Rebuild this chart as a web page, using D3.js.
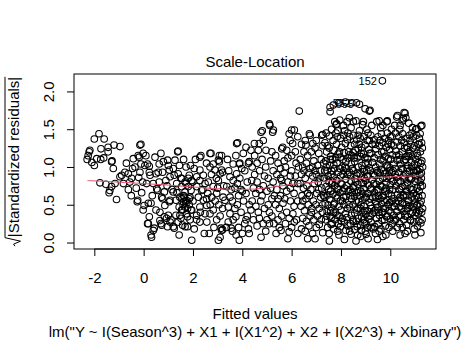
<!DOCTYPE html>
<html><head><meta charset="utf-8">
<script src="https://cdn.jsdelivr.net/npm/d3@7"></script>
<style>html,body{margin:0;padding:0;background:#fff}</style>
</head><body>
<svg id="chart" width="474" height="342"></svg>
<script>
// ---- data (fitted value, sqrt(|standardized residual|)) ----
const ptsLeft = [[-2.29,1.10],[-2.25,1.15],[-2.18,1.22],[-2.0,1.37],[-1.81,1.44],[-1.6,1.37],[-1.9,1.11],[-2.0,1.02],[-1.74,1.10],[-1.73,1.24],[-1.44,1.26],[-1.2,1.29],[-0.96,1.27],[-1.44,1.20],[-1.3,1.07],[-1.28,1.08],[-1.23,0.98],[-1.1,0.57],[-1.77,0.79],[-1.53,0.77],[-1.37,0.69],[-1.3,0.74],[-1.16,0.78],[-2.1,1.06],[-1.62,1.12],[-1.4,0.66],[-2.21,1.20],
[-0.96,0.87],[-0.89,0.89],[-0.76,0.93],[-0.62,0.91],[-0.49,0.85],[-0.56,0.80],[-0.15,1.29],[-0.11,1.30],[-0.22,1.15],[-0.18,1.13],[-0.42,1.11],[-0.15,0.93],[-0.02,1.18],[-0.35,1.00],[-0.45,0.98],[-0.26,0.54],[-0.24,0.56],[-0.02,0.43],[-0.11,1.04],[-0.04,0.80],[-0.30,0.72],[-0.62,0.70],[-0.82,0.78],[-0.20,0.86],[-0.70,1.05],[-0.50,0.62],[-0.08,0.66]];
const ptsLow = [[0.02,0.49],[0.09,1.15],[0.16,1.04],[0.23,0.93],[0.3,0.52],[0.5,0.43],[0.23,0.34],[0.16,0.25],[0.19,0.25],[0.43,0.19],[0.3,0.10],[0.32,0.07],[0.39,0.16],[0.7,1.18],[0.63,1.04],[0.97,1.09],[0.5,0.91],[0.77,0.93],[1.04,0.96],[0.9,0.82],[0.63,0.80],[0.57,0.69],[0.84,0.67],[0.77,0.58],[1.04,0.54],[0.84,0.34],[0.7,0.25],[0.97,0.21],[1.11,0.30],[0.26,0.89],[0.23,1.01],[0.39,0.78],[0.53,0.71],[0.46,1.13],[0.59,0.93],[0.8,1.07],[1.0,1.02],[1.07,0.87],[0.73,0.60],[0.86,0.49],[1.07,0.56],[0.93,0.32],[1.07,0.27],[1.0,0.36],[0.66,0.29],[0.73,0.23],[0.66,0.40],[0.19,0.52],[0.05,1.02],[0.12,0.78],[0.35,0.62],[1.15,0.70],[0.95,0.75],
[1.2,0.67],[1.24,0.89],[1.24,0.19],[1.2,0.21],[1.31,0.56],[1.31,0.36],[1.38,1.20],[1.40,1.21],[1.27,1.09],[1.2,0.98],[1.4,0.91],[1.54,0.85],[1.34,0.78],[1.54,0.74],[1.47,0.60],[1.61,0.54],[1.68,0.47],[1.54,0.43],[1.47,0.36],[1.4,0.27],[1.74,0.38],[1.95,0.43],[1.88,0.30],[1.68,0.21],[1.95,0.03],[1.74,0.56],[1.88,0.60],[1.68,0.67],[1.81,0.74],[1.95,0.82],[1.81,0.85],[1.68,0.80],[1.44,0.47],[1.58,0.43],[1.72,0.52],[1.85,0.58],[1.65,0.60],[1.92,0.43],[1.78,0.34],[1.51,0.32],[1.58,0.23],[1.78,0.21],[1.44,0.10],[1.92,0.69],[1.99,0.80],[1.72,0.78],[1.51,0.85],[1.85,0.89],[2.05,0.98],[1.72,1.00],[1.60,0.50],[1.70,0.55],[1.78,0.45],[1.62,0.62],[1.55,0.58],[1.85,0.50],[2.0,0.55],[1.35,0.66],[1.45,1.02],[1.62,1.10],[2.1,1.10],[1.9,1.02],[2.15,0.30],[2.05,0.18]];
const ptsMid = [[2.28,1.13],[2.69,1.18],[2.28,0.96],[2.15,0.87],[2.42,0.89],[2.28,0.82],[2.49,0.78],[2.15,0.74],[2.35,0.69],[2.22,0.60],[2.42,0.56],[2.28,0.47],[2.56,0.49],[2.49,0.38],[2.15,0.36],[2.28,0.27],[2.56,0.27],[2.69,0.38],[2.82,0.43],[2.96,0.30],[3.03,0.03],[3.10,0.07],[3.16,0.16],[3.20,0.17],[2.76,0.60],[2.96,0.65],[2.82,0.74],[2.62,0.80],[3.03,0.82],[3.10,0.91],[2.89,0.96],[3.16,0.96],[2.82,1.04],[3.03,1.09],[2.69,1.00],[3.16,1.15],[2.55,1.05],[2.40,0.70],[2.60,0.65],[2.70,0.50],[2.90,0.55],[3.05,0.50],[3.20,0.45],[3.10,0.35],[2.85,0.20],[2.46,0.12],[2.66,0.12],[2.95,0.85],[3.25,0.75],[3.22,0.60],[2.32,1.15],[2.73,1.18],[3.07,1.15],[3.07,1.07],[3.2,0.93],[2.75,0.90],[2.55,0.58],[3.0,0.72],[2.3,0.40],[3.14,0.19],
[3.37,0.74],[3.5,0.87],[3.63,0.82],[3.43,0.47],[3.5,0.38],[3.63,0.30],[3.7,0.45],[3.43,0.27],[3.3,0.56],[3.5,0.60],[3.77,1.31],[3.81,1.32],[3.63,1.04],[3.77,0.91],[4.04,1.18],[3.74,1.15],[3.88,1.04],[3.55,0.19],[3.74,0.34],[4.15,0.30],[3.88,0.03],[3.40,1.10],[3.90,1.05],[4.10,0.95],[4.20,0.80],[3.95,0.70],[3.85,0.62],[4.05,0.55],[4.15,0.65],[3.80,0.50],[3.95,0.40],[4.20,0.35],[4.10,0.25],[3.85,0.20],[3.60,0.15],[3.75,0.10],[4.0,0.12],[4.25,0.18],[3.45,0.95],[3.70,0.72],[3.90,0.85],[4.25,1.05],[4.15,1.26],[3.35,0.20],[3.60,0.55],[4.28,0.50],[3.98,0.98],[4.0,0.68],[3.55,0.70],[3.80,0.78],
[4.35,1.22],[4.49,1.31],[4.28,1.07],[4.35,0.43],[4.28,0.12],[4.69,1.31],[4.76,1.46],[4.81,1.48],[5.10,1.57],[5.12,1.55],[5.26,1.49],[5.23,1.46],[4.96,1.22],[4.65,1.22],[4.85,1.35],[4.76,0.07],[5.10,0.25],[4.69,0.32],[4.40,1.00],[4.50,0.90],[4.60,0.80],[4.45,0.72],[4.55,0.65],[4.70,0.70],[4.85,0.75],[5.00,0.68],[5.15,0.72],[5.25,0.80],[4.40,0.55],[4.55,0.48],[4.75,0.55],[4.90,0.45],[5.05,0.50],[5.20,0.58],[4.45,0.30],[4.60,0.22],[4.85,0.25],[4.95,0.15],[5.20,0.35],[5.10,0.40],[4.60,1.05],[4.80,1.10],[4.95,1.00],[5.15,1.08],[5.25,0.95],[4.70,0.95],[4.90,0.88],[5.05,0.85],[4.50,1.15],[5.20,1.20],[4.38,0.82],[4.65,0.40],[5.00,0.30],[4.80,0.62],[5.28,0.25],
[5.37,0.12],[5.57,0.16],[5.90,0.14],[6.25,0.12],[6.11,0.27],[5.64,1.26],[5.60,1.24],[5.80,1.22],[5.94,1.35],[6.00,1.49],[6.04,1.31],[6.11,1.49],[6.25,1.40],[5.90,1.44],[6.31,1.74],[5.35,1.15],[5.45,1.05],[5.55,0.98],[5.70,1.08],[5.85,1.12],[6.00,1.15],[6.15,1.20],[5.40,0.90],[5.55,0.85],[5.70,0.92],[5.85,0.80],[6.00,0.95],[6.15,0.88],[6.28,1.00],[5.40,0.70],[5.55,0.62],[5.65,0.75],[5.80,0.68],[5.95,0.72],[6.10,0.65],[6.25,0.78],[5.35,0.50],[5.50,0.45],[5.65,0.52],[5.80,0.40],[5.95,0.55],[6.10,0.48],[6.25,0.55],[5.45,0.30],[5.60,0.35],[5.75,0.25],[5.90,0.32],[6.05,0.38],[6.20,0.30],[5.50,0.20],[5.85,0.05],[6.00,0.20],[5.72,0.58],[6.18,1.05],[5.60,0.82],[5.30,0.62],[5.95,0.88],[6.05,0.78],[5.75,1.00],[5.45,0.58]];
const ptsHigh = [[6.40,1.30],[6.58,1.29],[6.72,1.44],[6.75,1.42],[6.86,1.31],[7.22,1.42],[7.26,1.43],[6.50,1.20],[6.65,1.15],[6.80,1.20],[6.95,1.25],[7.10,1.18],[7.25,1.28],[6.35,1.10],[6.45,1.00],[6.60,1.05],[6.75,0.98],[6.90,1.08],[7.05,1.02],[7.20,1.10],[6.40,0.90],[6.55,0.85],[6.70,0.92],[6.85,0.88],[7.00,0.90],[7.15,0.95],[7.28,0.85],[6.35,0.78],[6.48,0.72],[6.62,0.75],[6.78,0.70],[6.92,0.78],[7.08,0.80],[7.22,0.72],[6.42,0.62],[6.58,0.58],[6.72,0.62],[6.88,0.55],[7.02,0.65],[7.18,0.60],[7.30,0.62],[6.38,0.48],[6.52,0.42],[6.68,0.50],[6.82,0.45],[6.98,0.50],[7.12,0.45],[7.26,0.50],[6.45,0.32],[6.60,0.28],[6.75,0.35],[6.90,0.30],[7.05,0.35],[7.20,0.30],[6.40,0.18],[6.55,0.15],[6.70,0.22],[6.85,0.12],[7.00,0.20],[7.12,0.24],[7.26,0.13],[6.95,0.05],[6.65,0.05],[6.50,0.95],[6.95,0.95],[6.65,0.65],[7.10,0.70],[6.80,0.40],[6.45,0.55],[7.25,0.40],[6.55,1.35],[7.00,1.35],[6.85,1.00],[7.15,0.85],
[7.35,1.32],[7.42,1.20],[7.38,1.08],[7.45,0.95],[7.33,0.85],[7.40,0.74],[7.47,0.63],[7.36,0.52],[7.44,0.41],[7.38,0.30],[7.46,0.20],[7.53,0.02],[7.52,1.25],[7.58,1.14],[7.55,1.02],[7.60,0.90],[7.52,0.80],[7.58,0.68],[7.54,0.57],[7.62,0.46],[7.56,0.35],[7.60,0.24],[7.52,0.12],[7.68,1.35],[7.72,1.22],[7.66,1.10],[7.74,0.98],[7.68,0.86],[7.75,0.75],[7.67,0.64],[7.73,0.52],[7.69,0.40],[7.76,0.30],[7.70,0.18],[7.82,1.30],[7.88,1.17],[7.84,1.05],[7.90,0.93],[7.83,0.82],[7.89,0.70],[7.85,0.59],[7.92,0.48],[7.84,0.36],[7.90,0.25],[7.87,0.15],[7.98,1.38],[8.03,1.26],[7.97,1.13],[8.05,1.00],[7.99,0.88],[8.04,0.77],[7.96,0.66],[8.06,0.55],[8.00,0.43],[8.05,0.32],[7.98,0.21],[8.14,0.04],[8.12,1.42],[8.18,1.31],[8.13,1.19],[8.20,1.07],[8.11,0.95],[8.19,0.84],[8.14,0.72],[8.21,0.61],[8.12,0.50],[8.18,0.38],[8.14,0.27],[8.20,0.16],[8.26,1.36],[8.28,1.12],[8.27,0.90],[8.29,0.68],[8.26,0.45],[8.28,0.22],[7.56,1.79],[7.69,1.82],[7.56,1.73],[7.83,1.57],[7.80,1.56],[7.87,1.48],[7.53,1.41],[7.91,1.85],[8.18,1.86],[7.62,1.50],[7.95,1.62],[8.10,1.55],[7.40,1.45],[8.25,1.60],[7.75,1.60],[7.45,1.28],[7.62,0.95],[7.80,0.62],[7.95,0.98],[8.10,0.60],[7.50,0.70],[7.70,0.50],[7.35,0.60],[8.00,0.78],[7.78,1.12],[7.60,0.32],[8.08,0.90],[7.92,0.35],[7.40,1.00],[8.22,0.98],[7.85,1.40],[8.15,1.48],[7.58,0.42],[7.98,0.55],[8.24,0.33],[8.41,0.11]];
const ptsRight = [[8.44,1.85],[8.98,1.77],[9.18,1.75],[8.50,1.60],[8.91,1.60],[8.34,1.65],[8.61,1.61],[8.88,1.56],[8.41,1.52],[9.15,1.74],[9.05,1.50],[8.75,1.48],[9.25,1.55],[8.61,0.02],[9.02,0.11],[9.22,0.20],[8.80,0.08],[9.10,0.05],
[8.35,1.40],[8.40,1.28],[8.36,1.16],[8.42,1.04],[8.35,0.93],[8.41,0.81],[8.37,0.70],[8.43,0.58],[8.36,0.47],[8.42,0.36],[8.38,0.25],[8.50,1.42],[8.55,1.30],[8.49,1.19],[8.56,1.07],[8.51,0.95],[8.57,0.84],[8.50,0.72],[8.55,0.61],[8.49,0.50],[8.56,0.39],[8.51,0.28],[8.55,0.17],[8.64,1.36],[8.70,1.24],[8.65,1.12],[8.71,1.00],[8.63,0.89],[8.69,0.77],[8.66,0.66],[8.72,0.54],[8.64,0.43],[8.70,0.32],[8.66,0.21],[8.68,0.10],[8.78,1.38],[8.84,1.26],[8.79,1.14],[8.85,1.02],[8.78,0.91],[8.83,0.79],[8.80,0.68],[8.86,0.56],[8.79,0.45],[8.84,0.34],[8.80,0.23],[8.93,1.40],[8.98,1.29],[8.92,1.17],[8.99,1.05],[8.94,0.94],[9.00,0.82],[8.93,0.71],[8.98,0.59],[8.94,0.48],[9.00,0.37],[8.95,0.26],[8.99,0.15],[9.07,1.35],[9.13,1.23],[9.08,1.11],[9.14,0.99],[9.06,0.88],[9.12,0.76],[9.09,0.65],[9.15,0.53],[9.07,0.42],[9.13,0.31],[9.08,0.20],[9.21,1.42],[9.27,1.30],[9.22,1.18],[9.28,1.06],[9.20,0.95],[9.26,0.83],[9.23,0.72],[9.29,0.60],[9.21,0.49],[9.27,0.38],[9.22,0.27],[8.45,0.98],[8.60,0.80],[8.75,0.62],[8.90,0.40],[9.05,0.95],[9.20,0.70],[8.38,0.62],[8.58,1.22],[8.82,1.18],[9.10,1.45],[8.68,0.45],[8.95,0.85],[9.18,0.35],[8.48,0.30],[8.88,0.65],[9.02,0.25],
[9.48,0.04],[9.55,1.61],[9.61,1.52],[9.88,1.61],[9.45,1.60],[9.86,1.60],[10.26,1.66],[10.29,1.68],[9.70,1.55],[10.05,1.50],
[9.36,1.36],[9.42,1.24],[9.35,1.12],[9.41,1.00],[9.37,0.89],[9.43,0.77],[9.36,0.66],[9.42,0.54],[9.38,0.43],[9.44,0.32],[9.37,0.21],[9.40,0.12],[9.50,1.40],[9.56,1.28],[9.51,1.16],[9.57,1.04],[9.49,0.93],[9.55,0.81],[9.52,0.70],[9.58,0.58],[9.50,0.47],[9.56,0.36],[9.51,0.25],[9.55,0.15],[9.64,1.44],[9.70,1.32],[9.65,1.20],[9.71,1.08],[9.63,0.97],[9.69,0.85],[9.66,0.74],[9.72,0.62],[9.64,0.51],[9.70,0.40],[9.66,0.29],[9.70,0.08],[9.78,1.38],[9.84,1.26],[9.79,1.14],[9.85,1.02],[9.78,0.91],[9.83,0.79],[9.80,0.68],[9.86,0.56],[9.79,0.45],[9.84,0.34],[9.80,0.22],[9.82,0.10],[9.93,1.35],[9.98,1.23],[9.92,1.11],[9.99,0.99],[9.94,0.88],[10.00,0.76],[9.93,0.65],[9.98,0.53],[9.94,0.42],[10.00,0.31],[9.95,0.20],[10.07,1.40],[10.13,1.28],[10.08,1.16],[10.14,1.04],[10.06,0.93],[10.12,0.81],[10.09,0.70],[10.15,0.58],[10.07,0.47],[10.13,0.36],[10.08,0.25],[10.21,1.45],[10.27,1.33],[10.22,1.21],[10.28,1.09],[10.20,0.98],[10.26,0.86],[10.23,0.75],[10.29,0.63],[10.21,0.52],[10.27,0.41],[10.22,0.30],[10.15,0.29],[9.45,0.95],[9.60,0.75],[9.75,0.55],[9.90,0.35],[10.05,0.62],[10.20,0.90],[9.40,0.60],[9.62,1.10],[9.88,1.45],[10.18,1.55],[9.72,0.45],[9.96,0.95],[10.10,0.15],[9.52,0.62],[9.85,0.85],[10.02,1.10],
[10.49,1.61],[10.53,1.64],[10.56,1.72],[10.60,1.71],[10.63,1.65],[11.28,1.55],[11.08,1.51],[11.24,1.54],[11.03,1.50],[10.40,1.55],[10.75,1.58],[10.90,1.52],[10.49,0.20],[10.69,0.15],[10.97,0.18],[11.24,0.13],[11.24,0.26],[10.83,0.29],[10.55,0.30],[11.10,0.22],[10.40,0.10],
[10.35,1.40],[10.41,1.28],[10.36,1.16],[10.42,1.04],[10.35,0.93],[10.41,0.81],[10.37,0.70],[10.43,0.58],[10.36,0.47],[10.42,0.36],[10.38,0.25],[10.50,1.44],[10.56,1.32],[10.49,1.20],[10.56,1.08],[10.51,0.97],[10.57,0.85],[10.50,0.74],[10.55,0.63],[10.49,0.52],[10.56,0.41],[10.64,1.38],[10.70,1.26],[10.65,1.14],[10.71,1.02],[10.63,0.91],[10.69,0.79],[10.66,0.68],[10.72,0.56],[10.64,0.45],[10.70,0.34],[10.66,0.23],[10.78,1.42],[10.84,1.30],[10.79,1.18],[10.85,1.06],[10.78,0.95],[10.83,0.83],[10.80,0.72],[10.86,0.60],[10.79,0.49],[10.84,0.38],[10.93,1.40],[10.98,1.28],[10.92,1.16],[10.99,1.04],[10.94,0.93],[11.00,0.81],[10.93,0.70],[10.98,0.58],[10.94,0.47],[11.00,0.36],[10.95,0.27],[11.07,1.42],[11.13,1.30],[11.08,1.18],[11.14,1.06],[11.06,0.95],[11.12,0.83],[11.09,0.72],[11.15,0.60],[11.07,0.49],[11.13,0.38],[11.21,1.44],[11.27,1.32],[11.22,1.20],[11.28,1.08],[11.20,0.97],[11.26,0.85],[11.23,0.74],[11.29,0.62],[11.21,0.51],[11.27,0.40],[11.31,1.00],[11.30,0.75],[11.31,0.45],[11.30,1.25],[10.45,0.98],[10.60,0.75],[10.75,0.55],[10.90,0.40],[11.05,0.62],[11.20,0.90],[10.40,0.60],[10.62,1.10],[10.88,1.45],[11.18,1.30],[10.72,0.45],[10.96,0.95],[11.16,0.28],[10.52,0.62],[10.85,0.85],[11.02,1.10],[11.25,0.55],[10.68,0.98],[11.10,0.50],[10.38,1.50]];
const ptsBlobExtra = [[7.30,1.05],[7.48,0.88],[7.63,0.78],[7.71,1.03],[7.86,0.72],[7.94,1.20],[8.07,0.68],[8.16,1.00],[8.23,0.75],[8.31,1.20],[8.39,0.88],[8.46,0.66],[8.53,1.12],[8.62,0.55],[8.68,0.92],[8.74,1.30],[8.81,0.50],[8.87,0.97],[8.92,0.30],[8.97,1.12],[9.03,0.60],[9.09,0.88],[9.16,1.18],[9.24,0.45],[9.31,0.90],[9.34,0.40],[9.39,1.30],[9.46,0.70],[9.53,0.40],[9.59,0.92],[9.67,0.60],[9.74,1.20],[9.77,0.30],[9.82,0.72],[9.89,1.00],[9.91,0.50],[9.97,0.70],[10.03,0.40],[10.04,1.30],[10.11,0.95],[10.17,0.48],[10.24,1.15],[10.31,0.80],[10.33,0.35],[10.39,1.10],[10.46,0.45],[10.53,0.88],[10.58,1.25],[10.61,0.35],[10.67,0.62],[10.73,1.15],[10.77,0.85],[10.81,0.30],[10.87,0.70],[10.91,1.25],[10.97,0.52],[11.03,0.88],[11.05,0.40],[11.11,1.15],[11.17,0.68],[11.19,0.42],[11.24,1.05],[11.29,0.30],[11.26,0.92],[11.18,1.38],[10.80,1.35],[10.46,1.35],[10.00,1.40],[9.58,1.35],[9.15,1.35],[8.70,1.42],[8.28,1.45],[7.80,1.45],[7.48,0.50],[7.64,0.25],[7.92,0.10],[8.35,0.15],[8.83,0.16],[9.30,0.18],[9.62,0.18],[10.28,0.20],[10.60,0.12],[11.00,0.10],[7.42,0.35],[7.78,0.40],[8.02,0.28],[8.33,0.50],[8.62,0.28],[8.91,0.78],[9.18,0.58],[9.45,0.50],[9.73,0.95],[10.03,0.85],[10.33,0.55],[10.65,0.50],[10.95,0.65],[11.22,0.80],[7.66,0.80],[8.09,1.10],[8.52,0.75],[8.96,0.42],[9.33,0.78],[9.66,0.40],[10.06,0.55],[10.44,0.72],[10.86,1.00],[11.12,0.95],[7.34,0.95],[7.57,1.10],[8.44,1.15],[9.10,1.05],[9.91,1.30],[10.75,1.20]];

// identified points
const idLabels = ["152", "655", "552"];
const idFitted = [9.68, 8.75, 8.63];
const idResid  = [2.14, 1.83, 1.85];

// lowess smoother (red line)
const smoothX = [-2.28, -1, 0, 1, 2, 3, 4, 5, 6, 7, 8, 9, 10, 11.31];
const smoothY = [0.82, 0.80, 0.78, 0.76, 0.735, 0.712, 0.702, 0.722, 0.77, 0.80, 0.83, 0.85, 0.87, 0.885];

// axis ticks & limits
const xTicks = [-2, 0, 2, 4, 6, 8, 10];
const yTicks = [0, 0.5, 1, 1.5, 2];
const xlim = [-2.28, 11.31];
const ylim = [0, 2.145];

const titleText = "Scale-Location";
const xTitle = "Fitted values";
const subTitle = 'lm("Y ~ I(Season^3) + X1 + I(X1^2) + X2 + I(X2^3) + Xbinary")';
const yTitle = "|Standardized residuals|";

// ---- drawing ----
const FONT = "'Liberation Sans', Arial, Helvetica, sans-serif";
const box = {l: 74, r: 436, t: 74, b: 249};
const svg = d3.select("#chart");
svg.append("rect").attr("width", 474).attr("height", 342).attr("fill", "#fff");

const dx = xlim[1] - xlim[0], dy = ylim[1] - ylim[0];
const x = d3.scaleLinear().domain([xlim[0] - 0.04 * dx, xlim[1] + 0.04 * dx]).range([box.l, box.r]);
const y = d3.scaleLinear().domain([ylim[0] - 0.04 * dy, ylim[1] + 0.04 * dy]).range([box.b, box.t]);

const allPts = [].concat(ptsLeft, ptsLow, ptsMid, ptsHigh, ptsRight, ptsBlobExtra,
  idFitted.map((f, i) => [f, idResid[i]]));

svg.append("g").selectAll("circle").data(allPts).join("circle")
  .attr("cx", d => x(d[0])).attr("cy", d => y(d[1])).attr("r", 3.3)
  .attr("fill", "none").attr("stroke", "#000").attr("stroke-width", 1.05);

const line = d3.line().x(d => x(d[0])).y(d => y(d[1])).curve(d3.curveCatmullRom);
svg.append("path").datum(smoothX.map((v, i) => [v, smoothY[i]]))
  .attr("d", line).attr("fill", "none").attr("stroke", "#DF536B").attr("stroke-width", 1);

// id labels
svg.append("g").selectAll("text").data(idLabels).join("text")
  .attr("x", (d, i) => x(idFitted[i]) - 5.5).attr("y", (d, i) => y(idResid[i]))
  .attr("dy", "0.35em").attr("text-anchor", "end")
  .attr("font-family", FONT).attr("font-size", 11).text(d => d);

// box
svg.append("rect").attr("x", box.l).attr("y", box.t).attr("width", box.r - box.l).attr("height", box.b - box.t)
  .attr("fill", "none").attr("stroke", "#000").attr("stroke-width", 1);

// x axis
const gx = svg.append("g").attr("transform", `translate(0,${box.b})`)
  .call(d3.axisBottom(x).tickValues(xTicks).tickSize(7).tickFormat(d => String(d)));
gx.select(".domain").remove();
gx.selectAll(".tick line").attr("stroke", "#000");
gx.selectAll(".tick text").attr("y", 33.5).attr("dy", 0).attr("fill", "#000")
  .attr("font-family", FONT).attr("font-size", 15);
svg.append("line").attr("x1", x(xTicks[0])).attr("x2", x(xTicks[xTicks.length - 1]))
  .attr("y1", box.b).attr("y2", box.b).attr("stroke", "#000");

// y axis
const gy = svg.append("g").attr("transform", `translate(${box.l},0)`)
  .call(d3.axisLeft(y).tickValues(yTicks).tickSize(7).tickFormat(d3.format(".1f")));
gy.select(".domain").remove();
gy.selectAll(".tick line").attr("stroke", "#000");
gy.selectAll(".tick text").attr("x", 0).attr("y", 0).attr("dy", 0)
  .attr("transform", "translate(-20.5,0) rotate(-90)").attr("text-anchor", "middle")
  .attr("fill", "#000").attr("font-family", FONT).attr("font-size", 15);

// titles
svg.append("text").attr("x", (box.l + box.r) / 2).attr("y", 67).attr("text-anchor", "middle")
  .attr("font-family", FONT).attr("font-size", 15).text(titleText);
svg.append("text").attr("x", (box.l + box.r) / 2).attr("y", 318.5).attr("text-anchor", "middle")
  .attr("font-family", FONT).attr("font-size", 15).text(xTitle);
svg.append("text").attr("x", (box.l + box.r) / 2).attr("y", 336.5).attr("text-anchor", "middle")
  .attr("font-family", FONT).attr("font-size", 15).text(subTitle);

// y title with radical sign
const gyt = svg.append("g").attr("transform", `translate(19,${(box.t + box.b) / 2}) rotate(-90)`);
const yt = gyt.append("text").attr("font-family", FONT).attr("font-size", 15).attr("text-anchor", "start").text(yTitle);
const tw = yt.node().getComputedTextLength();
const radW = 9;
const start = -(tw + radW) / 2 + radW;
yt.attr("x", start).attr("y", 0);
gyt.append("path")
  .attr("d", `M${start - 9},-4 L${start - 7},-5.5 L${start - 4},1.5 L${start - 0.5},-14 L${start + tw},-14`)
  .attr("fill", "none").attr("stroke", "#000").attr("stroke-width", 1);
</script>
</body></html>
